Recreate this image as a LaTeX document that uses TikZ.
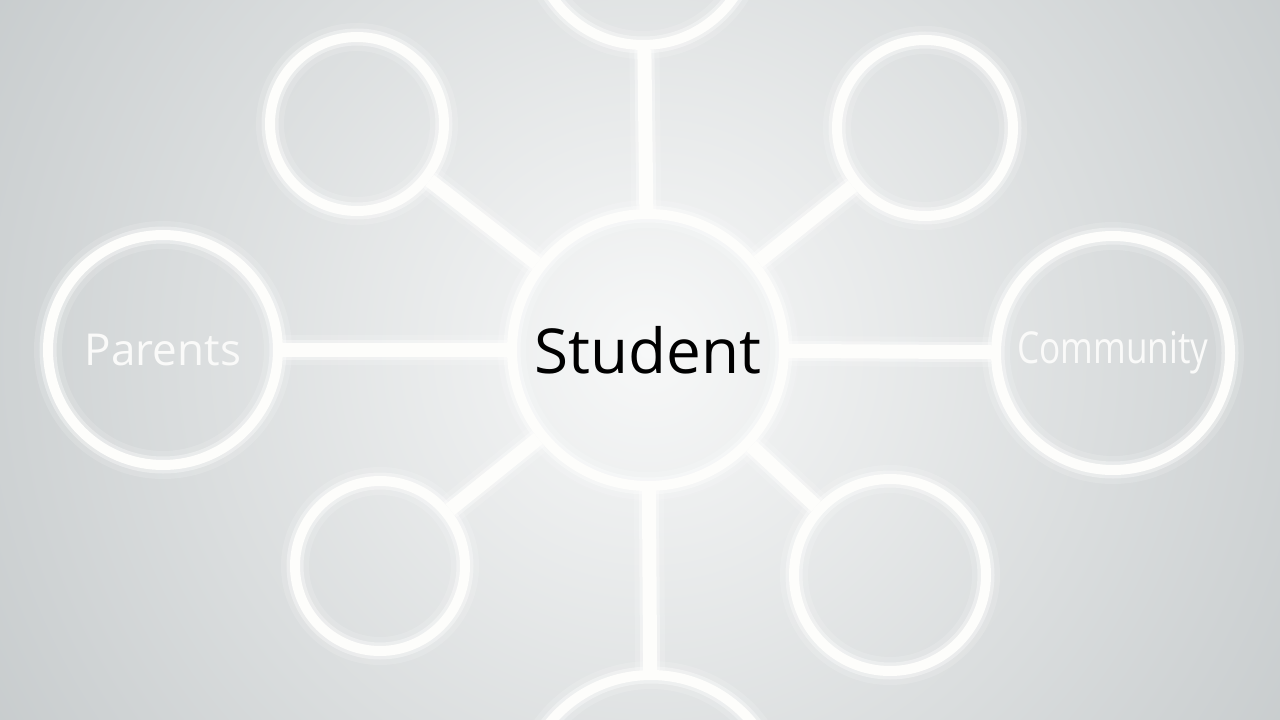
\documentclass[tikz,border=0pt]{standalone}
\usepackage{fontspec}
\setmainfont{Open Sans}
\newfontfamily\narrowfont[FakeStretch=0.8]{Open Sans}
\usetikzlibrary{positioning}

\definecolor{bgedge}{RGB}{178,184,186}
\definecolor{bgmid}{RGB}{247,248,248}
\definecolor{ringwhite}{RGB}{253,253,251}
\definecolor{tagwhite}{RGB}{250,250,249}

\tikzset{
  hub/.style={circle, draw=ringwhite, line width=10pt, minimum size=#1, inner sep=0pt,
    preaction={draw=white, line width=28pt, opacity=.15},
    preaction={draw=white, line width=17pt, opacity=.35}},
  spoke/.style={draw=ringwhite, line width=14pt,
    preaction={draw=white, line width=30pt, opacity=.15},
    preaction={draw=white, line width=20pt, opacity=.35}},
  tag/.style={text=tagwhite}
}

\begin{document}
\begin{tikzpicture}[x=1pt,y=-1pt]
\useasboundingbox (0,0) rectangle (1280,720);
\clip (0,0) rectangle (1280,720);

% background
\fill[bgedge] (0,0) rectangle (1280,720);
\shade[inner color=bgmid, outer color=bgedge] (648,350) circle (1100);

% circles
\node[hub=272] (stu) at (648,350) {\raisebox{-4pt}{\fontsize{62}{70}\selectfont Student}};
\node[hub=220] (top) at (643,-65) {};
\node[hub=262] (bot) at (651,806) {};
\node[hub=174] (ul) at (357,124) {};
\node[hub=176] (ur) at (925,128) {};
\node[hub=170] (ll) at (380,566) {};
\node[hub=192] (lr) at (890,575) {};
\node[hub=230, tag] (par) at (163,350) {\fontsize{44}{50}\selectfont Parents};
\node[hub=234, tag] (com) at (1113,353) {\narrowfont\fontsize{44}{50}\selectfont Community};

% spokes
\foreach \sat in {top,bot,ul,ur,ll,lr,par,com}
  \draw[spoke] (stu) -- (\sat);
\end{tikzpicture}
\end{document}
